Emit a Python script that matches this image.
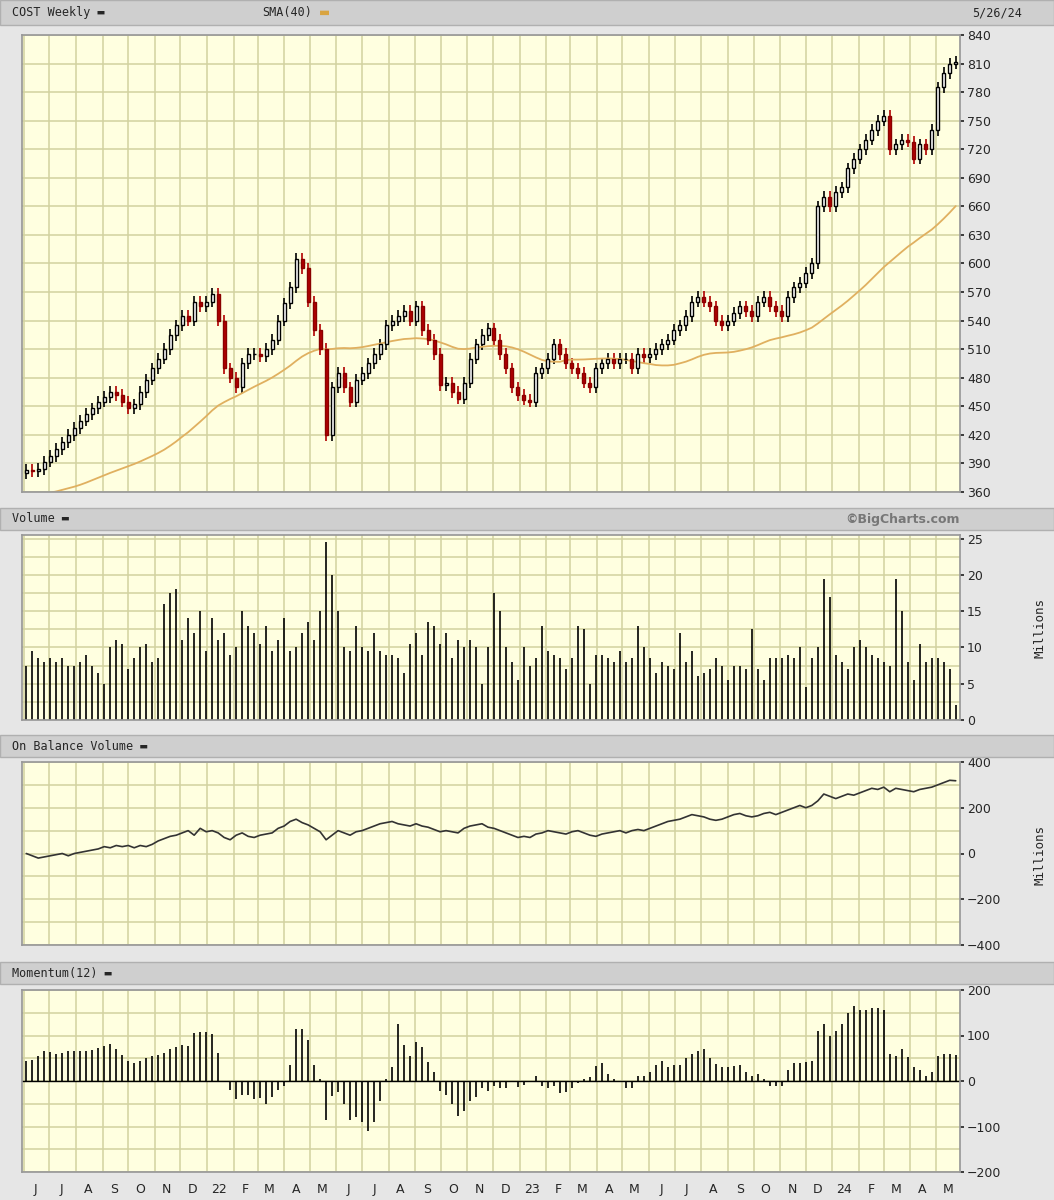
import numpy as np, pandas as pd, matplotlib
matplotlib.use("Agg")
import matplotlib.pyplot as plt, seaborn as sns
import matplotlib.dates as mdates
from matplotlib.patches import Rectangle

sns.set_theme(style="white")
plt.rcParams['font.family'] = ['DejaVu Sans']

pre_close = [340,345,350,352,355,350,345,355,360,355,350,345,350,360,365,370,360,355,358,360,
             365,372,375,370,360,355,345,350,340,335,330,325,335,345,350,355,360,370,375,380]
close = [383,382,384,392,
 398,405,412,420,427,
 435,442,448,455,
 460,465,462,455,
 448,452,465,478,490,
 500,510,525,535,
 545,540,560,555,560,
 568,540,490,480,
 470,495,505,505,
 503,510,520,540,
 558,575,605,595,560,
 530,510,420,470,
 485,470,455,478,
 485,495,505,515,535,
 540,545,550,540,
 555,530,520,505,472,
 475,465,458,475,
 500,515,525,532,
 520,505,490,470,462,
 457,455,485,490,
 500,515,505,495,
 490,485,475,470,490,
 495,500,495,500,
 500,490,505,502,
 505,510,515,520,530,
 535,545,560,565,
 560,555,540,535,
 540,548,555,550,545,
 560,565,555,550,
 545,565,575,580,
 590,600,660,670,660,
 675,680,700,710,
 720,730,740,750,
 755,720,725,730,728,
 710,725,720,740,
 785,800,810,812]
volume = [7.5,9.5,8.5,8, 8.5,8,8.5,7.5,7.5, 8,9,7.5,6.5, 5,10,11,10.5, 7,8.5,10,10.5,8,
 8.5,16,17.5,18, 11,14,12,15,9.5, 14,11,12,9, 10,15,13,12, 10.5,13,9.5,11, 14,9.5,10,12,13.5,
 11,15,24.5,20, 15,10,9.5,13, 10,9.5,12,9.5,9, 9,8.5,6.5,10.5, 12,9,13.5,13,10.5, 12,8.5,11,10,
 11,10,5,10, 17.5,15,10,8,5.5, 10,7.5,8.5,13, 9.5,9,8.5,7, 8.5,13,12.5,5,9, 9,8.5,8,9.5,
 8,8.5,13,10, 8.5,6.5,8,7.5,7, 12,8,9.5,6, 6.5,7,8.5,7.5, 5.5,7.5,7.5,7,12.5, 7,5.5,8.5,8.5,
 8.5,9,8.5,10, 4.5,8.5,10,19.5,17, 9,8,7,10, 11,10,9,8.5, 8,7.5,19.5,15,8, 5.5,10.5,8,8.5,
 8.5,8,7,2]
obv = [0,-10,-20,-15, -10,-5,0,-10,0, 5,10,15,20, 30,25,35,30, 35,25,35,30,40, 55,65,75,80,
 90,100,80,110,95, 100,90,70,60, 80,90,75,70, 80,85,90,110, 120,140,150,135,125, 110,95,60,80,
 100,90,80,95, 100,110,120,130,135, 140,130,125,120, 130,120,115,105,95, 100,95,90,110,
 120,125,130,115, 110,100,90,80,70, 75,70,85,90, 100,95,90,85, 95,100,90,80,75, 85,90,95,100,
 90,100,105,100, 110,120,130,140,145, 150,160,170,165, 160,150,145,150, 160,170,175,165,160,
 165,175,180,170, 180,190,200,210, 200,210,230,260,250, 240,250,260,255, 265,275,285,280,
 290,270,285,280,275, 270,280,285,290, 300,310,320,318]
n = min(len(close), len(volume), len(obv))
close = close[:n]; volume = volume[:n]; obv = obv[:n]
month_labels = ["J","J","A","S","O","N","D","22","F","M","A","M","J","J","A","S","O","N","D","23",
                "F","M","A","M","J","J","A","S","O","N","D","24","F","M","A","M"]

dates = pd.date_range(end="2024-05-24", periods=n, freq="W-FRI")
allc = np.array(pre_close + close, float)
sma = pd.Series(allc).rolling(40).mean().values[len(pre_close):]
c = np.array(close, float)
o = allc[len(pre_close)-1:-1]
hi = np.maximum(o, c) + 6
lo = np.minimum(o, c) - 6
v = np.array(volume)
mom = allc[len(pre_close):] - allc[len(pre_close)-12:-12]
x = mdates.date2num(dates)

W, H = 1054, 1200
fig = plt.figure(figsize=(W/100, H/100), dpi=100, facecolor="#e6e6e6")
def ax_at(l, t, r, b):
    return fig.add_axes([l/W, 1-b/H, (r-l)/W, (b-t)/H])
def header(t, b, txt, extra=None, right=None):
    fig.patches.append(Rectangle((0, 1-b/H), 1, (b-t)/H, transform=fig.transFigure,
                                 facecolor="#cfcfcf", edgecolor="#b0b0b0", zorder=0))
    fig.text(12/W, 1-(t+b)/2/H, txt + " ▬", fontsize=8.5, family="DejaVu Sans Mono", va="center")
    if extra:
        fig.text(extra[0]/W, 1-(t+b)/2/H, extra[1], fontsize=8.5, family="DejaVu Sans Mono", va="center")
        fig.text((extra[0]+57)/W, 1-(t+b)/2/H, "▬", fontsize=8.5, color="#d9a441", va="center")
    if right:
        fig.text(1022/W, 1-(t+b)/2/H, right, fontsize=8.5, family="DejaVu Sans Mono", va="center", ha="right")

month_starts = pd.date_range("2021-06-01", "2024-05-01", freq="MS")
mx = mdates.date2num(month_starts)
xlim = (x[0]-5, x[-1]+5)
def style(ax, yticks, ylim, grid_y):
    ax.set_facecolor("#ffffe0")
    ax.set_xlim(*xlim); ax.set_ylim(*ylim)
    for gx in mx: ax.axvline(gx, color="#d2d2a0", lw=1.1, zorder=0)
    for gy in grid_y: ax.axhline(gy, color="#d2d2a0", lw=1.1, zorder=0)
    ax.yaxis.tick_right()
    ax.set_yticks(yticks)
    ax.tick_params(axis="y", labelsize=9, length=3, pad=2)
    ax.set_xticks([])
    for s in ax.spines.values(): s.set_color("#999")

header(0, 25, "COST Weekly", extra=(262, "SMA(40)"), right="5/26/24")
a1 = ax_at(22, 35, 960, 492)
style(a1, range(360, 841, 30), (360, 840), range(360, 841, 30))
up = c >= o
a1.vlines(x, lo, hi, color=np.where(up, "black", "#b00000"), lw=1.2, zorder=2)
bw = 3.5
a1.bar(x[up], (c-o)[up], bottom=o[up], width=bw, color="white", edgecolor="black", lw=1, zorder=3)
a1.bar(x[~up], (o-c)[~up], bottom=c[~up], width=bw, color="#b00000", edgecolor="#8a0000", lw=1, zorder=3)
sns.lineplot(x=x, y=sma, ax=a1, color="#e0b060", lw=1.3, zorder=2)
a1.set_yticklabels([str(t) for t in range(360, 841, 30)])

header(508, 530, "Volume")
fig.text(960/W, 1-519/H, "©BigCharts.com", fontsize=9, weight="bold", color="#777", va="center", ha="right")
a2 = ax_at(22, 535, 960, 720)
style(a2, range(0, 26, 5), (0, 25.5), np.arange(0, 26, 2.5))
a2.vlines(x, 0, v, color="black", lw=1.2)
fig.text(1040/W, 1-628/H, "Millions", rotation=90, fontsize=9, family="DejaVu Sans Mono", va="center", ha="center")

header(735, 757, "On Balance Volume")
a3 = ax_at(22, 762, 960, 945)
style(a3, range(-400, 401, 200), (-400, 400), range(-400, 401, 100))
sns.lineplot(x=x, y=obv, ax=a3, color="#333", lw=1.2)
fig.text(1040/W, 1-855/H, "Millions", rotation=90, fontsize=9, family="DejaVu Sans Mono", va="center", ha="center")

header(962, 984, "Momentum(12)")
a4 = ax_at(22, 990, 960, 1172)
style(a4, range(-200, 201, 100), (-200, 200), range(-200, 201, 50))
a4.vlines(x, 0, mom, color="black", lw=1.2)
a4.axhline(0, color="black", lw=1)
a4.set_xticks(mx + 14)
a4.set_xticklabels(month_labels, fontsize=9)
a4.tick_params(axis="x", length=0, pad=8)
for a in (a1, a2, a3, a4):
    a.set_xlabel(""); a.set_ylabel("")
fig.savefig("out.png", dpi=100, facecolor=fig.get_facecolor())
